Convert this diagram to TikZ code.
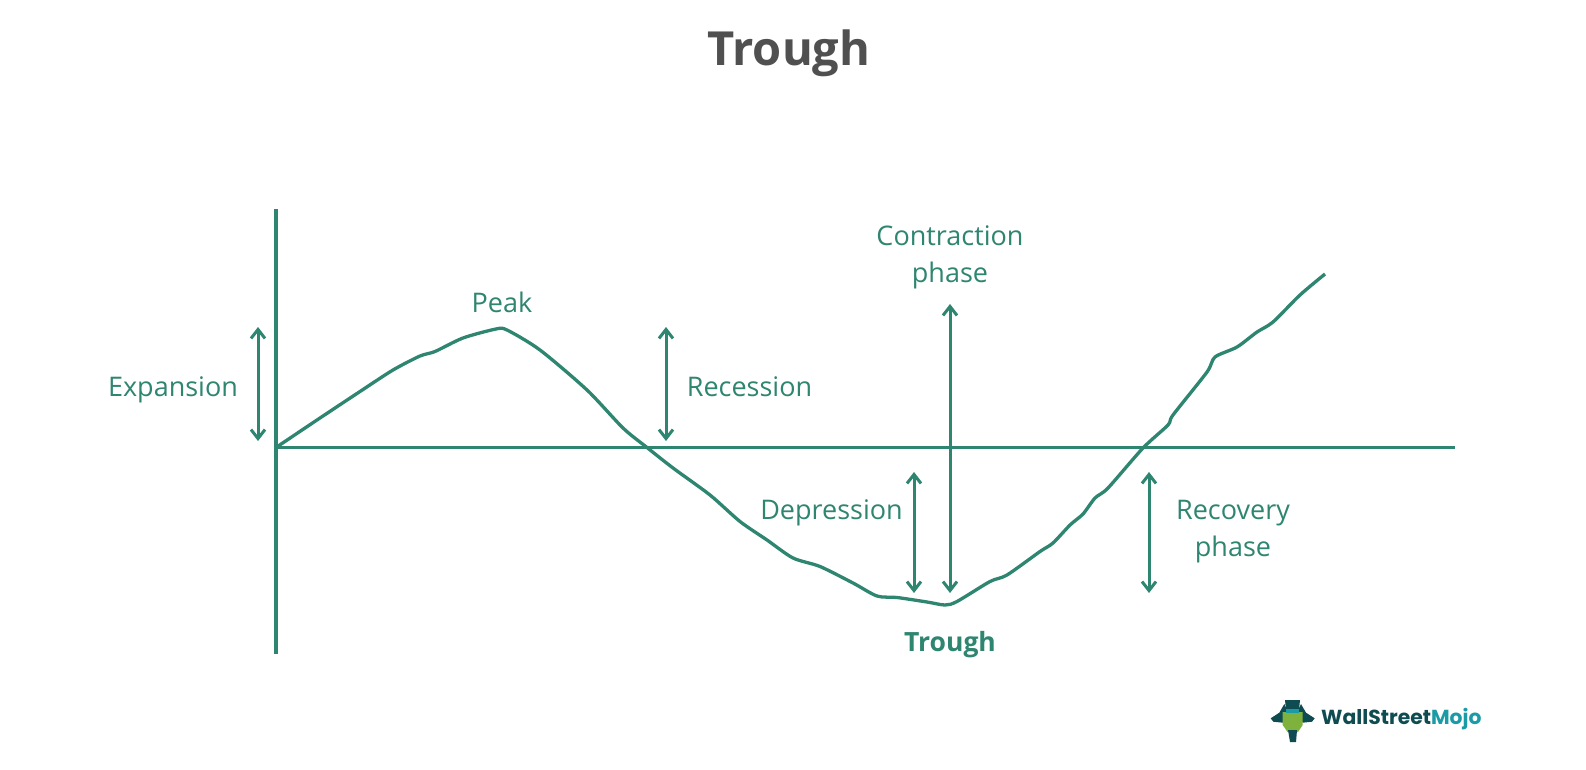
\documentclass[tikz,border=0pt]{standalone}
\usepackage{fontspec}
\setmainfont{Open Sans}
\newfontfamily\logofont{Poppins}
\usepackage{color}
\usetikzlibrary{arrows.meta}
\usetikzlibrary{calc}
\definecolor{curvegreen}{HTML}{2E8570}
\definecolor{titlegray}{HTML}{505050}
\definecolor{logodark}{HTML}{0F4C52}
\definecolor{logoteal}{HTML}{1A9BA5}
\definecolor{logolime}{HTML}{7FB23C}
\tikzstyle{line} = [curvegreen,line width=3.3pt]
\tikzstyle{connector} = [{Straight Barb[length=9pt,width=14pt]}-{Straight Barb[length=9pt,width=14pt]},curvegreen,line width=3pt]
\tikzstyle{tag} = [text=curvegreen,font=\fontsize{27}{37}\selectfont,align=center,inner sep=0pt]

\begin{document}
\begin{tikzpicture}[x=1pt,y=-1pt]
    \useasboundingbox (0,0) rectangle (1586,770);
    \fill[white] (0,0) rectangle (1586,770);

    % axes
    \coordinate (origin) at (276,447.5);
    \coordinate (ytop) at (276,209);
    \coordinate (ybottom) at (276,654);
    \coordinate (xend) at (1455,447.5);
    \draw [line] (ytop) -- (ybottom);
    \draw [line] (origin) -- (xend);

    % the cycle
    \draw [line,line join=round] plot[smooth,tension=0.45] coordinates {
      (origin) (317,420) (360,391.5) (393,370) (420,356) (435,351.5) (463,338)
      (496,329) (507,330) (540,350) (587,390) (623,428) (647,447.5) (673,468)
      (710,495) (740,521.5) (767,540) (793,558) (820,566.5) (853,583) (877,596)
      (897,597.5) (927,602) (945,605) (957,601.5) (990,581.5) (1007,575) (1040,551.5)
      (1053,543) (1070,525) (1083,514) (1095,498) (1108,488) (1143,448) (1168,425)
      (1173,415) (1207,372) (1215,357) (1237,347) (1257,332) (1273,322) (1300,295)
      (1325,274)};

    % labels
    \node[text=titlegray,font=\fontsize{47}{56}\selectfont\bfseries,inner sep=0pt] (title) at (789,53) {Trough};
    \node[tag] (peak) at (502,302) {Peak};
    \node[tag] (expansion) at (173,390) {Expansion};
    \node[tag] (recession) at (749.5,387) {Recession};
    \node[tag] (contraction) at (950,257) {Contraction\\phase};
    \node[tag] (depression) at (831.5,513) {Depression};
    \node[tag] (recovery) at (1233,531.5) {Recovery\\phase};
    \node[tag,font=\fontsize{26.5}{37}\selectfont\bfseries] (trough) at (950,645) {Trough};

    % arrow ends
    \coordinate (a1) at (258,327);
    \coordinate (a2) at (258,441);
    \coordinate (b1) at (666,327);
    \coordinate (b2) at (666,441);
    \coordinate (c1) at (914,472);
    \coordinate (c2) at (914,593);
    \coordinate (d1) at (950,304);
    \coordinate (d2) at (950,593);
    \coordinate (e1) at (1149,472);
    \coordinate (e2) at (1149,593);
    \draw [connector] (a1) -- (a2);
    \draw [connector] (b1) -- (b2);
    \draw [connector] (c1) -- (c2);
    \draw [connector] (d1) -- (d2);
    \draw [connector] (e1) -- (e2);

    % logo
    \fill[logodark] (1284.3,704) -- (1279.3,712.7) -- (1270.7,718.3) -- (1273.3,721.7) -- (1282.7,722.7) -- (1288,712) -- cycle;
    \fill[logodark] (1301,704) -- (1306,712.7) -- (1314.7,718.3) -- (1312,721.7) -- (1302.7,722.7) -- (1297,712) -- cycle;
    \fill[logolime] (1282.7,712) -- (1302.7,712) -- (1302.7,725) -- (1298,732) -- (1287.5,732) -- (1282.7,725) -- cycle;
    \fill[logodark] (1288,730) -- (1297,730) -- (1296,742) -- (1290,742) -- cycle;
    \fill[logodark] (1285,700) -- (1300,700) -- (1299,710) -- (1286,710) -- cycle;
    \fill[logoteal] (1286,709) rectangle (1299,713);
    \node[font=\logofont\fontsize{20.3}{24}\selectfont\bfseries,inner sep=0pt,anchor=west] (logo) at (1321,719) {\textcolor{logodark}{WallStreet}\textcolor{logoteal}{Mojo}};
\end{tikzpicture}
\end{document}
